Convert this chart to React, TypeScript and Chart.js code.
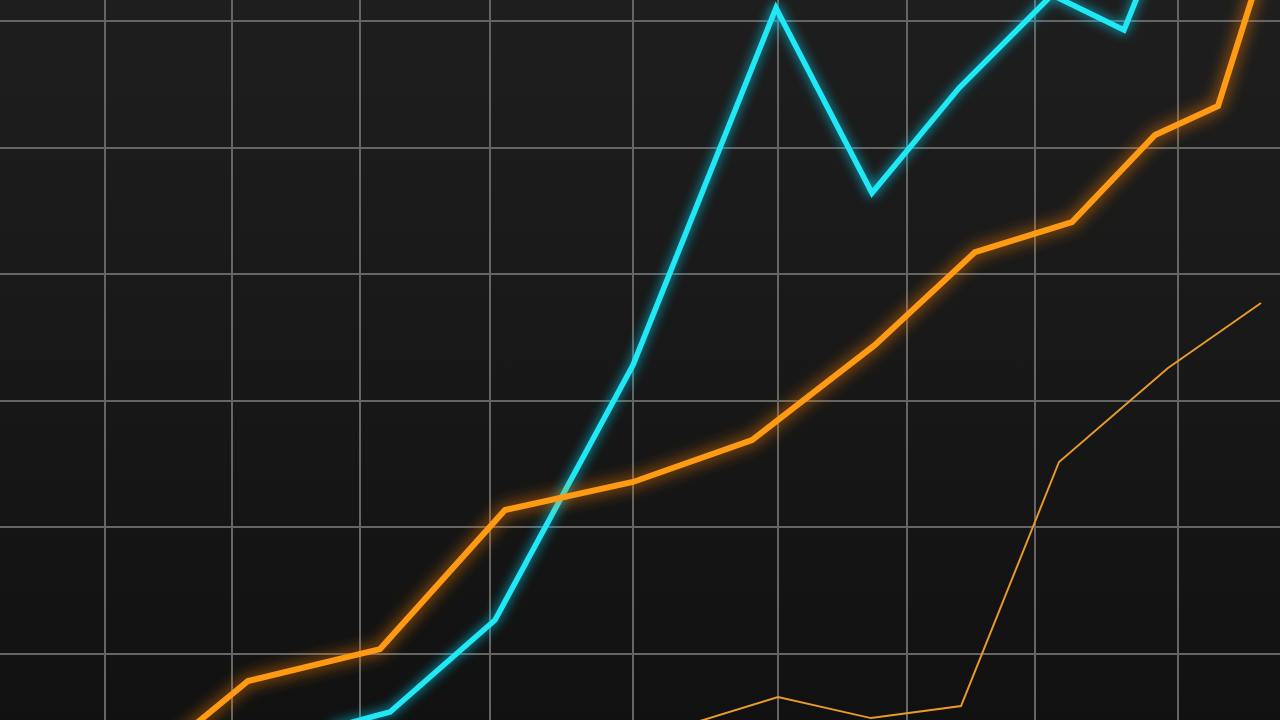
import React, { useEffect, useRef } from "react";
import { Chart, registerables } from "chart.js";

Chart.register(...registerables);

// Vertical grid positions (x units) and horizontal grid values (y units)
const xGridTicks = [1.05, 2.32, 3.6, 4.9, 6.33, 7.78, 9.07, 10.35, 11.78];
const yGridTicks = [0, 1, 2, 3, 4, 5];

// Cyan series
const cyanX = [3.3, 3.9, 4.95, 6.33, 7.76, 8.72, 9.59, 10.52, 11.24, 11.6];
const cyanY = [-0.585, -0.458, 0.269, 2.283, 5.103, 3.641, 4.471, 5.206, 4.929, 5.64];

// Thick glowing orange series
const orangeX = [1.7, 2.48, 3.8, 5.05, 6.33, 7.52, 8.75, 9.75, 10.72, 11.55, 12.18, 12.61];
const orangeY = [-0.719, -0.213, 0.039, 1.137, 1.359, 1.69, 2.441, 3.175, 3.412, 4.1, 4.329, 5.403];

// Thin orange series
const thinX = [6.9, 7.78, 8.71, 9.61, 10.59, 11.68, 12.61];
const thinY = [-0.553, -0.34, -0.506, -0.411, 1.517, 2.259, 2.773];

const toPoints = (xs: number[], ys: number[]) => xs.map((x, i) => ({ x, y: ys[i] }));

const glowPlugin = {
  id: "glow",
  beforeDatasetDraw(chart: any, args: any) {
    const ds: any = chart.data.datasets[args.index];
    const ctx = chart.ctx;
    ctx.save();
    if (ds.glowColor) {
      ctx.shadowColor = ds.glowColor;
      ctx.shadowBlur = ds.glowBlur || 12;
      ctx.shadowOffsetX = 0;
      ctx.shadowOffsetY = 0;
    }
  },
  afterDatasetDraw(chart: any) {
    chart.ctx.restore();
  },
};

export default function App() {
  const ref = useRef<HTMLCanvasElement | null>(null);

  useEffect(() => {
    if (!ref.current) return;
    const orangePts = toPoints(orangeX, orangeY);
    const cyanPts = toPoints(cyanX, cyanY);
    const chart = new Chart(ref.current, {
      type: "line",
      data: {
        datasets: [
          {
            data: toPoints(thinX, thinY),
            borderColor: "#e89a2a",
            borderWidth: 2,
            pointRadius: 0,
            tension: 0,
          } as any,
          {
            data: orangePts,
            borderColor: "#ff9a14",
            borderWidth: 6,
            pointRadius: 0,
            tension: 0,
            glowColor: "rgba(255,130,0,1)",
            glowBlur: 16,
          } as any,
          {
            data: orangePts,
            borderColor: "#ffc24a",
            borderWidth: 2.5,
            pointRadius: 0,
            tension: 0,
          } as any,
          {
            data: cyanPts,
            borderColor: "#20e8f4",
            borderWidth: 5.5,
            pointRadius: 0,
            tension: 0,
            glowColor: "rgba(0,220,255,0.9)",
            glowBlur: 12,
          } as any,
        ],
      },
      options: {
        animation: false,
        responsive: false,
        layout: { padding: 0 },
        plugins: { legend: { display: false }, tooltip: { enabled: false } },
        scales: {
          x: {
            type: "linear",
            min: 0,
            max: 12.8,
            afterBuildTicks: (axis: any) => {
              axis.ticks = xGridTicks.map((v) => ({ value: v }));
            },
            ticks: { display: false },
            border: { display: false },
            grid: { color: "#656565", lineWidth: 2, drawTicks: false },
          },
          y: {
            type: "linear",
            min: -0.521,
            max: 5.166,
            afterBuildTicks: (axis: any) => {
              axis.ticks = yGridTicks.map((v) => ({ value: v }));
            },
            ticks: { display: false },
            border: { display: false },
            grid: { color: "#656565", lineWidth: 2, drawTicks: false },
          },
        },
      },
      plugins: [glowPlugin],
    });
    return () => chart.destroy();
  }, []);

  return (
    <div
      style={{
        position: "fixed",
        left: 0,
        top: 0,
        width: 1280,
        height: 720,
        background: "linear-gradient(180deg, #1e1e1e 0%, #181818 50%, #111111 100%)",
      }}
    >
      <canvas ref={ref} width={1280} height={720} style={{ display: "block" }} />
    </div>
  );
}
